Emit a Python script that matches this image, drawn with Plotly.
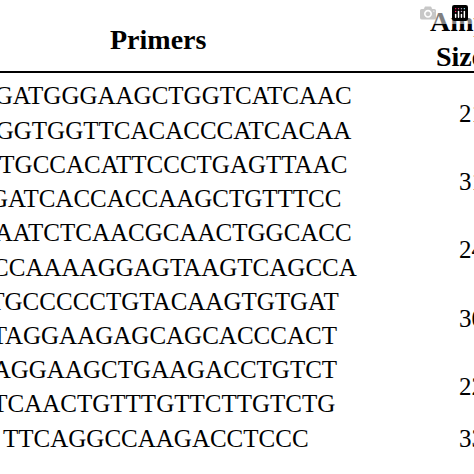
import plotly.graph_objects as go

# --- table data (left side and right column are cut off in the source) ---
primers = [
    "CAGATGGGAAGCTGGTCATCAAC",
    "ACGGTGGTTCACACCCATCACAA",
    "CCTGCCACATTCCCTGAGTTAAC",
    "GGATCACCACCAAGCTGTTTCC",
    "GCAATCTCAACGCAACTGGCACC",
    "AGCCAAAAGGAGTAAGTCAGCCA",
    "ATGCCCCCTGTACAAGTGTGAT",
    "CTAGGAAGAGCAGCACCCACT",
    "CAGGAAGCTGAAGACCTGTCT",
    "TTCAACTGTTTGTTCTTGTCTG",
    "TTCAGGCCAAGACCTCCC",
]
amp_sizes = ["215", "312", "248", "305", "226", "330"]
amp_rows = [0.5, 2.5, 4.5, 6.5, 8.5, 10]  # which primer rows each size sits beside

W = H = 474
ROW0, ROWH = 96, 34.2
SERIF = "Liberation Serif, Times New Roman, serif"

fig = go.Figure()
ann = []

# header
ann.append(dict(x=158, y=40, text="<b>Primers</b>", font=dict(size=28)))
ann.append(dict(x=488, y=22, text="<b>Amplicon</b>", font=dict(size=28)))
ann.append(dict(x=488, y=56, text="<b>Size (bp)</b>", font=dict(size=28)))

for i, p in enumerate(primers):
    ann.append(dict(x=156, y=ROW0 + ROWH * i, text=p, font=dict(size=25)))

for s, r in zip(amp_sizes, amp_rows):
    ann.append(dict(x=478, y=ROW0 + ROWH * r, text=s, font=dict(size=25)))

for a in ann:
    a["x"] = a["x"] / W
    a["y"] = 1 - a["y"] / H
    a.update(xref="paper", yref="paper", showarrow=False, xanchor="center", yanchor="middle")
    a["font"].update(family=SERIF, color="black")

fig.add_shape(type="line", xref="paper", yref="paper", x0=0, x1=1,
              y0=1 - 72 / H, y1=1 - 72 / H, line=dict(color="black", width=2))

fig.update_layout(
    width=W, height=H,
    margin=dict(l=0, r=0, t=0, b=0),
    paper_bgcolor="white", plot_bgcolor="white",
    annotations=ann,
    xaxis=dict(visible=False, fixedrange=True),
    yaxis=dict(visible=False, fixedrange=True),
    showlegend=False,
)
fig.write_html("out.html", post_script="document.body.style.margin='0';")
